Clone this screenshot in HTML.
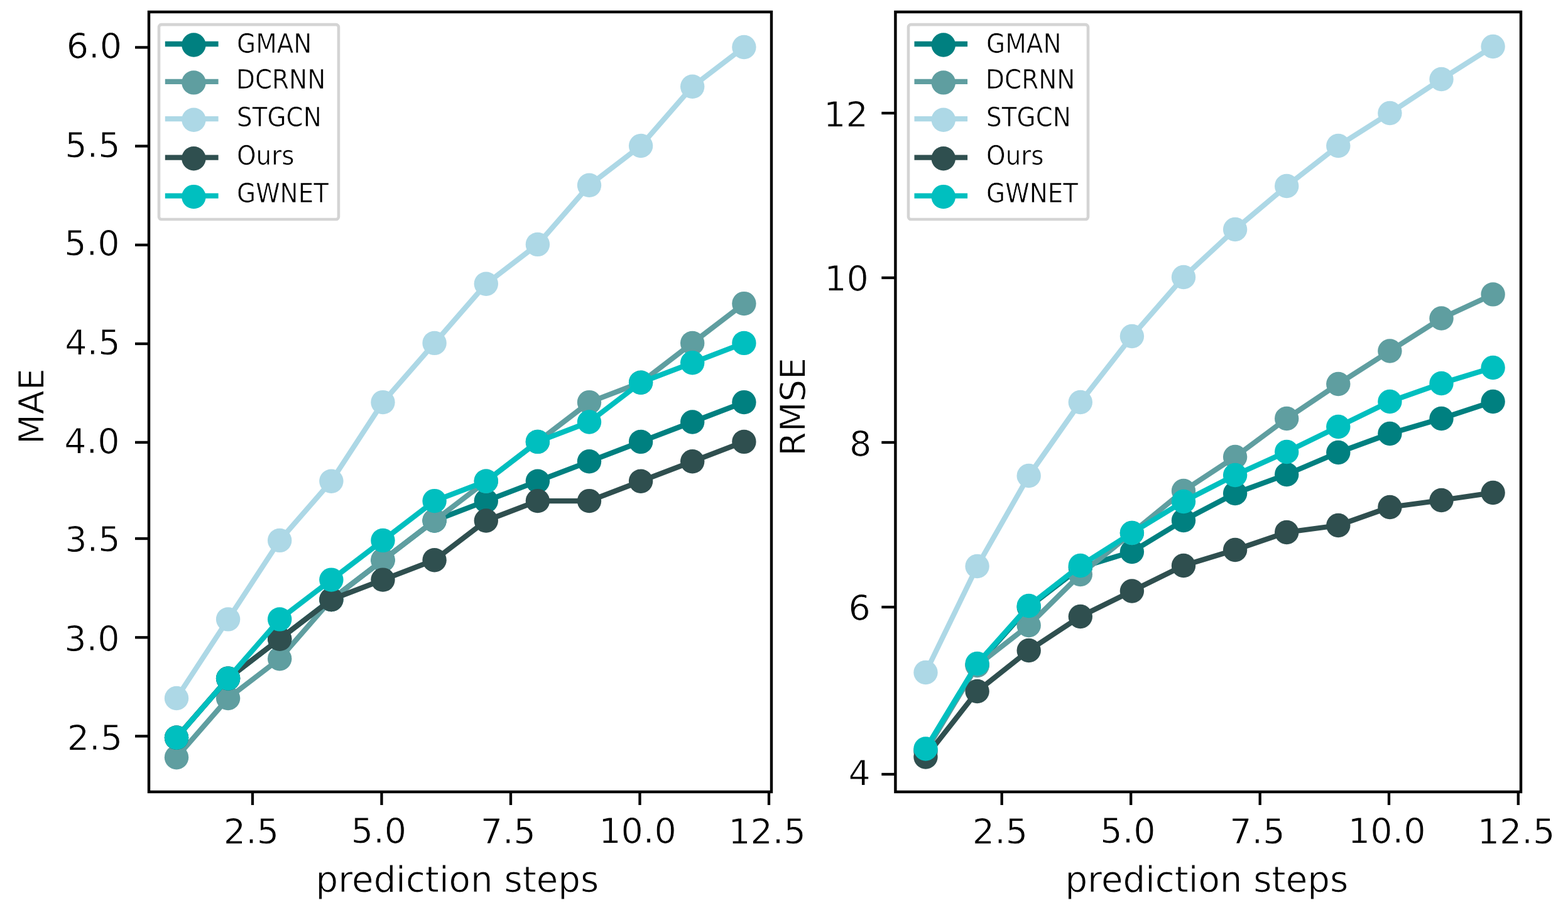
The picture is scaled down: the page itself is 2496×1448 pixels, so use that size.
<!DOCTYPE html>
<html><head><meta charset="utf-8"><title>MAE / RMSE vs prediction steps</title>
<style>html,body{margin:0;padding:0;background:#fff;} body{width:2496px;height:1448px;overflow:hidden;} svg{display:block;}</style>
</head><body>
<svg width="2496" height="1448" viewBox="0 0 2496 1448">
<style>text{font-family:'DejaVu Sans', 'Liberation Sans', sans-serif;fill:#000;stroke:#fff;stroke-width:0.9px;} .tk{font-size:55.56px;} .lg{font-size:38.9px;stroke-width:0.6px;}</style>
<rect width="2496" height="1448" fill="#fff"/>
<polyline points="281.0,1173.8 363.1,1079.6 445.2,1016.8 527.4,954.0 609.5,891.2 691.6,828.5 773.8,797.1 855.9,765.7 938.0,734.3 1020.1,702.9 1102.2,671.5 1184.4,640.1" fill="none" stroke="#008080" stroke-width="8.3" stroke-linejoin="round" stroke-linecap="square"/><circle cx="281.0" cy="1173.8" r="19.2" fill="#008080"/><circle cx="363.1" cy="1079.6" r="19.2" fill="#008080"/><circle cx="445.2" cy="1016.8" r="19.2" fill="#008080"/><circle cx="527.4" cy="954.0" r="19.2" fill="#008080"/><circle cx="609.5" cy="891.2" r="19.2" fill="#008080"/><circle cx="691.6" cy="828.5" r="19.2" fill="#008080"/><circle cx="773.8" cy="797.1" r="19.2" fill="#008080"/><circle cx="855.9" cy="765.7" r="19.2" fill="#008080"/><circle cx="938.0" cy="734.3" r="19.2" fill="#008080"/><circle cx="1020.1" cy="702.9" r="19.2" fill="#008080"/><circle cx="1102.2" cy="671.5" r="19.2" fill="#008080"/><circle cx="1184.4" cy="640.1" r="19.2" fill="#008080"/>
<polyline points="281.0,1205.2 363.1,1111.0 445.2,1048.2 527.4,954.0 609.5,891.2 691.6,828.5 773.8,765.7 855.9,702.9 938.0,640.1 1020.1,608.7 1102.2,545.9 1184.4,483.1" fill="none" stroke="#5F9EA0" stroke-width="8.3" stroke-linejoin="round" stroke-linecap="square"/><circle cx="281.0" cy="1205.2" r="19.2" fill="#5F9EA0"/><circle cx="363.1" cy="1111.0" r="19.2" fill="#5F9EA0"/><circle cx="445.2" cy="1048.2" r="19.2" fill="#5F9EA0"/><circle cx="527.4" cy="954.0" r="19.2" fill="#5F9EA0"/><circle cx="609.5" cy="891.2" r="19.2" fill="#5F9EA0"/><circle cx="691.6" cy="828.5" r="19.2" fill="#5F9EA0"/><circle cx="773.8" cy="765.7" r="19.2" fill="#5F9EA0"/><circle cx="855.9" cy="702.9" r="19.2" fill="#5F9EA0"/><circle cx="938.0" cy="640.1" r="19.2" fill="#5F9EA0"/><circle cx="1020.1" cy="608.7" r="19.2" fill="#5F9EA0"/><circle cx="1102.2" cy="545.9" r="19.2" fill="#5F9EA0"/><circle cx="1184.4" cy="483.1" r="19.2" fill="#5F9EA0"/>
<polyline points="281.0,1111.0 363.1,985.4 445.2,859.9 527.4,765.7 609.5,640.1 691.6,545.9 773.8,451.7 855.9,388.9 938.0,294.8 1020.1,232.0 1102.2,137.8 1184.4,75.0" fill="none" stroke="#ADD8E6" stroke-width="8.3" stroke-linejoin="round" stroke-linecap="square"/><circle cx="281.0" cy="1111.0" r="19.2" fill="#ADD8E6"/><circle cx="363.1" cy="985.4" r="19.2" fill="#ADD8E6"/><circle cx="445.2" cy="859.9" r="19.2" fill="#ADD8E6"/><circle cx="527.4" cy="765.7" r="19.2" fill="#ADD8E6"/><circle cx="609.5" cy="640.1" r="19.2" fill="#ADD8E6"/><circle cx="691.6" cy="545.9" r="19.2" fill="#ADD8E6"/><circle cx="773.8" cy="451.7" r="19.2" fill="#ADD8E6"/><circle cx="855.9" cy="388.9" r="19.2" fill="#ADD8E6"/><circle cx="938.0" cy="294.8" r="19.2" fill="#ADD8E6"/><circle cx="1020.1" cy="232.0" r="19.2" fill="#ADD8E6"/><circle cx="1102.2" cy="137.8" r="19.2" fill="#ADD8E6"/><circle cx="1184.4" cy="75.0" r="19.2" fill="#ADD8E6"/>
<polyline points="281.0,1173.8 363.1,1079.6 445.2,1016.8 527.4,954.0 609.5,922.6 691.6,891.2 773.8,828.5 855.9,797.1 938.0,797.1 1020.1,765.7 1102.2,734.3 1184.4,702.9" fill="none" stroke="#2F4F4F" stroke-width="8.3" stroke-linejoin="round" stroke-linecap="square"/><circle cx="281.0" cy="1173.8" r="19.2" fill="#2F4F4F"/><circle cx="363.1" cy="1079.6" r="19.2" fill="#2F4F4F"/><circle cx="445.2" cy="1016.8" r="19.2" fill="#2F4F4F"/><circle cx="527.4" cy="954.0" r="19.2" fill="#2F4F4F"/><circle cx="609.5" cy="922.6" r="19.2" fill="#2F4F4F"/><circle cx="691.6" cy="891.2" r="19.2" fill="#2F4F4F"/><circle cx="773.8" cy="828.5" r="19.2" fill="#2F4F4F"/><circle cx="855.9" cy="797.1" r="19.2" fill="#2F4F4F"/><circle cx="938.0" cy="797.1" r="19.2" fill="#2F4F4F"/><circle cx="1020.1" cy="765.7" r="19.2" fill="#2F4F4F"/><circle cx="1102.2" cy="734.3" r="19.2" fill="#2F4F4F"/><circle cx="1184.4" cy="702.9" r="19.2" fill="#2F4F4F"/>
<polyline points="281.0,1173.8 363.1,1079.6 445.2,985.4 527.4,922.6 609.5,859.9 691.6,797.1 773.8,765.7 855.9,702.9 938.0,671.5 1020.1,608.7 1102.2,577.3 1184.4,545.9" fill="none" stroke="#00BFBF" stroke-width="8.3" stroke-linejoin="round" stroke-linecap="square"/><circle cx="281.0" cy="1173.8" r="19.2" fill="#00BFBF"/><circle cx="363.1" cy="1079.6" r="19.2" fill="#00BFBF"/><circle cx="445.2" cy="985.4" r="19.2" fill="#00BFBF"/><circle cx="527.4" cy="922.6" r="19.2" fill="#00BFBF"/><circle cx="609.5" cy="859.9" r="19.2" fill="#00BFBF"/><circle cx="691.6" cy="797.1" r="19.2" fill="#00BFBF"/><circle cx="773.8" cy="765.7" r="19.2" fill="#00BFBF"/><circle cx="855.9" cy="702.9" r="19.2" fill="#00BFBF"/><circle cx="938.0" cy="671.5" r="19.2" fill="#00BFBF"/><circle cx="1020.1" cy="608.7" r="19.2" fill="#00BFBF"/><circle cx="1102.2" cy="577.3" r="19.2" fill="#00BFBF"/><circle cx="1184.4" cy="545.9" r="19.2" fill="#00BFBF"/>
<polyline points="1473.5,1195.0 1555.6,1058.0 1637.7,966.0 1719.8,903.0 1801.9,878.0 1884.0,828.0 1966.1,785.0 2048.2,755.0 2130.3,720.0 2212.4,690.0 2294.5,666.0 2376.6,639.0" fill="none" stroke="#008080" stroke-width="8.3" stroke-linejoin="round" stroke-linecap="square"/><circle cx="1473.5" cy="1195.0" r="19.2" fill="#008080"/><circle cx="1555.6" cy="1058.0" r="19.2" fill="#008080"/><circle cx="1637.7" cy="966.0" r="19.2" fill="#008080"/><circle cx="1719.8" cy="903.0" r="19.2" fill="#008080"/><circle cx="1801.9" cy="878.0" r="19.2" fill="#008080"/><circle cx="1884.0" cy="828.0" r="19.2" fill="#008080"/><circle cx="1966.1" cy="785.0" r="19.2" fill="#008080"/><circle cx="2048.2" cy="755.0" r="19.2" fill="#008080"/><circle cx="2130.3" cy="720.0" r="19.2" fill="#008080"/><circle cx="2212.4" cy="690.0" r="19.2" fill="#008080"/><circle cx="2294.5" cy="666.0" r="19.2" fill="#008080"/><circle cx="2376.6" cy="639.0" r="19.2" fill="#008080"/>
<polyline points="1473.5,1195.0 1555.6,1059.0 1637.7,995.0 1719.8,914.0 1801.9,848.0 1884.0,781.0 1966.1,727.0 2048.2,666.0 2130.3,611.0 2212.4,558.5 2294.5,506.5 2376.6,468.4" fill="none" stroke="#5F9EA0" stroke-width="8.3" stroke-linejoin="round" stroke-linecap="square"/><circle cx="1473.5" cy="1195.0" r="19.2" fill="#5F9EA0"/><circle cx="1555.6" cy="1059.0" r="19.2" fill="#5F9EA0"/><circle cx="1637.7" cy="995.0" r="19.2" fill="#5F9EA0"/><circle cx="1719.8" cy="914.0" r="19.2" fill="#5F9EA0"/><circle cx="1801.9" cy="848.0" r="19.2" fill="#5F9EA0"/><circle cx="1884.0" cy="781.0" r="19.2" fill="#5F9EA0"/><circle cx="1966.1" cy="727.0" r="19.2" fill="#5F9EA0"/><circle cx="2048.2" cy="666.0" r="19.2" fill="#5F9EA0"/><circle cx="2130.3" cy="611.0" r="19.2" fill="#5F9EA0"/><circle cx="2212.4" cy="558.5" r="19.2" fill="#5F9EA0"/><circle cx="2294.5" cy="506.5" r="19.2" fill="#5F9EA0"/><circle cx="2376.6" cy="468.4" r="19.2" fill="#5F9EA0"/>
<polyline points="1473.5,1070.0 1555.6,901.0 1637.7,757.0 1719.8,640.0 1801.9,535.0 1884.0,441.0 1966.1,365.0 2048.2,296.0 2130.3,232.0 2212.4,180.0 2294.5,126.0 2376.6,74.0" fill="none" stroke="#ADD8E6" stroke-width="8.3" stroke-linejoin="round" stroke-linecap="square"/><circle cx="1473.5" cy="1070.0" r="19.2" fill="#ADD8E6"/><circle cx="1555.6" cy="901.0" r="19.2" fill="#ADD8E6"/><circle cx="1637.7" cy="757.0" r="19.2" fill="#ADD8E6"/><circle cx="1719.8" cy="640.0" r="19.2" fill="#ADD8E6"/><circle cx="1801.9" cy="535.0" r="19.2" fill="#ADD8E6"/><circle cx="1884.0" cy="441.0" r="19.2" fill="#ADD8E6"/><circle cx="1966.1" cy="365.0" r="19.2" fill="#ADD8E6"/><circle cx="2048.2" cy="296.0" r="19.2" fill="#ADD8E6"/><circle cx="2130.3" cy="232.0" r="19.2" fill="#ADD8E6"/><circle cx="2212.4" cy="180.0" r="19.2" fill="#ADD8E6"/><circle cx="2294.5" cy="126.0" r="19.2" fill="#ADD8E6"/><circle cx="2376.6" cy="74.0" r="19.2" fill="#ADD8E6"/>
<polyline points="1473.5,1204.5 1555.6,1100.0 1637.7,1035.0 1719.8,981.0 1801.9,940.5 1884.0,900.0 1966.1,875.0 2048.2,847.0 2130.3,836.0 2212.4,807.0 2294.5,796.0 2376.6,784.0" fill="none" stroke="#2F4F4F" stroke-width="8.3" stroke-linejoin="round" stroke-linecap="square"/><circle cx="1473.5" cy="1204.5" r="19.2" fill="#2F4F4F"/><circle cx="1555.6" cy="1100.0" r="19.2" fill="#2F4F4F"/><circle cx="1637.7" cy="1035.0" r="19.2" fill="#2F4F4F"/><circle cx="1719.8" cy="981.0" r="19.2" fill="#2F4F4F"/><circle cx="1801.9" cy="940.5" r="19.2" fill="#2F4F4F"/><circle cx="1884.0" cy="900.0" r="19.2" fill="#2F4F4F"/><circle cx="1966.1" cy="875.0" r="19.2" fill="#2F4F4F"/><circle cx="2048.2" cy="847.0" r="19.2" fill="#2F4F4F"/><circle cx="2130.3" cy="836.0" r="19.2" fill="#2F4F4F"/><circle cx="2212.4" cy="807.0" r="19.2" fill="#2F4F4F"/><circle cx="2294.5" cy="796.0" r="19.2" fill="#2F4F4F"/><circle cx="2376.6" cy="784.0" r="19.2" fill="#2F4F4F"/>
<polyline points="1473.5,1191.5 1555.6,1056.0 1637.7,964.0 1719.8,900.0 1801.9,848.0 1884.0,798.0 1966.1,756.0 2048.2,719.0 2130.3,679.0 2212.4,639.0 2294.5,610.0 2376.6,585.0" fill="none" stroke="#00BFBF" stroke-width="8.3" stroke-linejoin="round" stroke-linecap="square"/><circle cx="1473.5" cy="1191.5" r="19.2" fill="#00BFBF"/><circle cx="1555.6" cy="1056.0" r="19.2" fill="#00BFBF"/><circle cx="1637.7" cy="964.0" r="19.2" fill="#00BFBF"/><circle cx="1719.8" cy="900.0" r="19.2" fill="#00BFBF"/><circle cx="1801.9" cy="848.0" r="19.2" fill="#00BFBF"/><circle cx="1884.0" cy="798.0" r="19.2" fill="#00BFBF"/><circle cx="1966.1" cy="756.0" r="19.2" fill="#00BFBF"/><circle cx="2048.2" cy="719.0" r="19.2" fill="#00BFBF"/><circle cx="2130.3" cy="679.0" r="19.2" fill="#00BFBF"/><circle cx="2212.4" cy="639.0" r="19.2" fill="#00BFBF"/><circle cx="2294.5" cy="610.0" r="19.2" fill="#00BFBF"/><circle cx="2376.6" cy="585.0" r="19.2" fill="#00BFBF"/>
<rect x="237" y="19" width="991" height="1241" fill="none" stroke="#000" stroke-width="4.44"/>
<rect x="1425.4" y="19" width="995.6" height="1241" fill="none" stroke="#000" stroke-width="4.44"/>
<line x1="215" y1="75.4" x2="237" y2="75.4" stroke="#000" stroke-width="4.3"/>
<line x1="215" y1="232.5" x2="237" y2="232.5" stroke="#000" stroke-width="4.3"/>
<line x1="215" y1="389.8" x2="237" y2="389.8" stroke="#000" stroke-width="4.3"/>
<line x1="215" y1="547" x2="237" y2="547" stroke="#000" stroke-width="4.3"/>
<line x1="215" y1="703.9" x2="237" y2="703.9" stroke="#000" stroke-width="4.3"/>
<line x1="215" y1="857" x2="237" y2="857" stroke="#000" stroke-width="4.3"/>
<line x1="215" y1="1014.3" x2="237" y2="1014.3" stroke="#000" stroke-width="4.3"/>
<line x1="215" y1="1171.4" x2="237" y2="1171.4" stroke="#000" stroke-width="4.3"/>
<line x1="1403.3" y1="180" x2="1425.4" y2="180" stroke="#000" stroke-width="4.3"/>
<line x1="1403.3" y1="442" x2="1425.4" y2="442" stroke="#000" stroke-width="4.3"/>
<line x1="1403.3" y1="704" x2="1425.4" y2="704" stroke="#000" stroke-width="4.3"/>
<line x1="1403.3" y1="966" x2="1425.4" y2="966" stroke="#000" stroke-width="4.3"/>
<line x1="1403.3" y1="1232" x2="1425.4" y2="1232" stroke="#000" stroke-width="4.3"/>
<line x1="402" y1="1260" x2="402" y2="1281" stroke="#000" stroke-width="4.3"/>
<line x1="607.5" y1="1260" x2="607.5" y2="1281" stroke="#000" stroke-width="4.3"/>
<line x1="813" y1="1260" x2="813" y2="1281" stroke="#000" stroke-width="4.3"/>
<line x1="1018.5" y1="1260" x2="1018.5" y2="1281" stroke="#000" stroke-width="4.3"/>
<line x1="1224" y1="1260" x2="1224" y2="1281" stroke="#000" stroke-width="4.3"/>
<line x1="1594.7" y1="1260" x2="1594.7" y2="1281" stroke="#000" stroke-width="4.3"/>
<line x1="1800.2" y1="1260" x2="1800.2" y2="1281" stroke="#000" stroke-width="4.3"/>
<line x1="2005.7" y1="1260" x2="2005.7" y2="1281" stroke="#000" stroke-width="4.3"/>
<line x1="2211" y1="1260" x2="2211" y2="1281" stroke="#000" stroke-width="4.3"/>
<line x1="2416.8" y1="1260" x2="2416.8" y2="1281" stroke="#000" stroke-width="4.3"/>
<rect x="253" y="39.1" width="286" height="309.9" rx="4" ry="4" fill="#fff" fill-opacity="0.8" stroke="#D4D4D4" stroke-width="4.6"/><line x1="262.8" y1="70.0" x2="347.6" y2="70.0" stroke="#008080" stroke-width="8.3"/><circle cx="308.4" cy="71.5" r="19.2" fill="#008080"/><line x1="262.8" y1="129.9" x2="347.6" y2="129.9" stroke="#5F9EA0" stroke-width="8.3"/><circle cx="308.4" cy="131.4" r="19.2" fill="#5F9EA0"/><line x1="262.8" y1="189.2" x2="347.6" y2="189.2" stroke="#ADD8E6" stroke-width="8.3"/><circle cx="308.4" cy="190.7" r="19.2" fill="#ADD8E6"/><line x1="262.8" y1="250.7" x2="347.6" y2="250.7" stroke="#2F4F4F" stroke-width="8.3"/><circle cx="308.4" cy="252.2" r="19.2" fill="#2F4F4F"/><line x1="262.8" y1="311.6" x2="347.6" y2="311.6" stroke="#00BFBF" stroke-width="8.3"/><circle cx="308.4" cy="313.1" r="19.2" fill="#00BFBF"/>
<rect x="1446" y="39.1" width="286" height="309.9" rx="4" ry="4" fill="#fff" fill-opacity="0.8" stroke="#D4D4D4" stroke-width="4.6"/><line x1="1455.5" y1="70.0" x2="1540.1" y2="70.0" stroke="#008080" stroke-width="8.3"/><circle cx="1501.8" cy="71.5" r="19.2" fill="#008080"/><line x1="1455.5" y1="129.9" x2="1540.1" y2="129.9" stroke="#5F9EA0" stroke-width="8.3"/><circle cx="1501.8" cy="131.4" r="19.2" fill="#5F9EA0"/><line x1="1455.5" y1="189.2" x2="1540.1" y2="189.2" stroke="#ADD8E6" stroke-width="8.3"/><circle cx="1501.8" cy="190.7" r="19.2" fill="#ADD8E6"/><line x1="1455.5" y1="250.7" x2="1540.1" y2="250.7" stroke="#2F4F4F" stroke-width="8.3"/><circle cx="1501.8" cy="252.2" r="19.2" fill="#2F4F4F"/><line x1="1455.5" y1="311.6" x2="1540.1" y2="311.6" stroke="#00BFBF" stroke-width="8.3"/><circle cx="1501.8" cy="313.1" r="19.2" fill="#00BFBF"/>
<text class="tk" x="194.0" y="92.2" text-anchor="end">6.0</text>
<text class="tk" x="191.6" y="249.5" text-anchor="end">5.5</text>
<text class="tk" x="190.6" y="406.4" text-anchor="end">5.0</text>
<text class="tk" x="191.6" y="563.8" text-anchor="end">4.5</text>
<text class="tk" x="190.6" y="721.1" text-anchor="end">4.0</text>
<text class="tk" x="191.6" y="876.9" text-anchor="end">3.5</text>
<text class="tk" x="190.6" y="1035.2" text-anchor="end">3.0</text>
<text class="tk" x="195.0" y="1193.2" text-anchor="end">2.5</text>
<text class="tk" x="1381.8" y="200.9" text-anchor="end">12</text>
<text class="tk" x="1382.9" y="461.9" text-anchor="end">10</text>
<text class="tk" x="1387.4" y="725.0" text-anchor="end">8</text>
<text class="tk" x="1385.8" y="985.7" text-anchor="end">6</text>
<text class="tk" x="1385.8" y="1248.7" text-anchor="end">4</text>
<text class="tk" x="400.0" y="1342.2" text-anchor="middle">2.5</text>
<text class="tk" x="603.0" y="1341.2" text-anchor="middle">5.0</text>
<text class="tk" x="808.8" y="1342.2" text-anchor="middle">7.5</text>
<text class="tk" x="1015.0" y="1341.2" text-anchor="middle">10.0</text>
<text class="tk" x="1221.0" y="1342.2" text-anchor="middle">12.5</text>
<text class="tk" x="1592.0" y="1342.2" text-anchor="middle">2.5</text>
<text class="tk" x="1795.5" y="1341.2" text-anchor="middle">5.0</text>
<text class="tk" x="2001.4" y="1342.2" text-anchor="middle">7.5</text>
<text class="tk" x="2207.7" y="1341.2" text-anchor="middle">10.0</text>
<text class="tk" x="2413.5" y="1342.2" text-anchor="middle">12.5</text>
<text class="tk" text-anchor="middle" transform="translate(727.9 1418.8) scale(1.012 1.04)">prediction steps</text>
<text class="tk" text-anchor="middle" transform="translate(1920.8 1418.8) scale(1.012 1.04)">prediction steps</text>
<text class="tk" text-anchor="middle" transform="translate(68.6 646.6) rotate(-90)">MAE</text>
<text class="tk" text-anchor="middle" transform="translate(1281.2 647.4) rotate(-90)">RMSE</text>
<text class="lg" text-anchor="start" transform="translate(377.0 83.7) scale(1.0 1.1)">GMAN</text>
<text class="lg" text-anchor="start" transform="translate(1570.1 83.7) scale(1.0 1.1)">GMAN</text>
<text class="lg" text-anchor="start" transform="translate(376.0 140.7) scale(1.0 1.1)">DCRNN</text>
<text class="lg" text-anchor="start" transform="translate(1569.1 140.7) scale(1.0 1.1)">DCRNN</text>
<text class="lg" text-anchor="start" transform="translate(377.0 201.4) scale(1.0 1.1)">STGCN</text>
<text class="lg" text-anchor="start" transform="translate(1570.1 201.4) scale(1.0 1.1)">STGCN</text>
<text class="lg" text-anchor="start" transform="translate(377.0 261.5) scale(1.0 1.1)">Ours</text>
<text class="lg" text-anchor="start" transform="translate(1570.1 261.5) scale(1.0 1.1)">Ours</text>
<text class="lg" text-anchor="start" transform="translate(377.0 321.9) scale(1.0 1.1)">GWNET</text>
<text class="lg" text-anchor="start" transform="translate(1570.1 321.9) scale(1.0 1.1)">GWNET</text>
</svg>
</body></html>
